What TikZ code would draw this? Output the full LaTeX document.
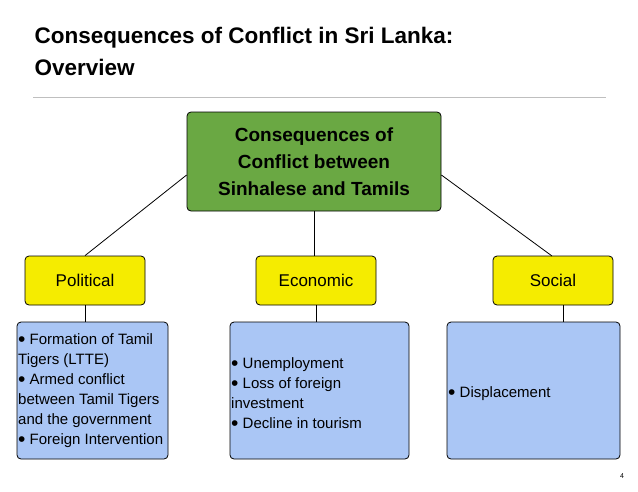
\documentclass[tikz,border=0pt]{standalone}
\usepackage{fontspec}
\setmainfont{Liberation Sans}
\newcommand{\bu}{\raisebox{-1.5pt}{\fontsize{21}{0}\selectfont•}}
\begin{document}
\begin{tikzpicture}[x=1pt,y=-1pt,
  box/.style={draw=black,line width=0.8pt,rounded corners=4pt,inner sep=0pt},
  link/.style={draw=black,line width=0.8pt},
  bl/.style={anchor=west,align=left,inner sep=0pt,font=\fontsize{15}{20}\selectfont}]
\useasboundingbox (0,0) rectangle (638,491);
\fill[white] (0,0) rectangle (638,491);
\node[anchor=north west,align=left,font=\bfseries\fontsize{22.5}{32}\selectfont] (title) at (31,24) {Consequences of Conflict in Sri Lanka:\\Overview};
\draw[gray!50,line width=0.6pt] (33,97) -- (606,97);
\node[box,fill={rgb,255:red,106;green,168;blue,67},minimum width=254pt,minimum height=99pt,align=center,font=\bfseries\fontsize{19}{27}\selectfont] (top) at (314,161.5) {Consequences of\\Conflict between\\Sinhalese and Tamils};
\tikzset{yb/.style={box,fill={rgb,255:red,245;green,236;blue,0},minimum width=120pt,minimum height=49pt,font=\fontsize{17}{20}\selectfont}}
\node[yb] (pol) at (85,280.5) {Political};
\node[yb] (eco) at (316,280.5) {Economic};
\node[yb] (soc) at (553,280.5) {Social};
\tikzset{bb/.style={box,fill={rgb,255:red,170;green,198;blue,245},minimum height=137pt}}
\node[bb,minimum width=151pt] (b1) at (92.5,390.5) {};
\node[bb,minimum width=179pt] (b2) at (319.5,390.5) {};
\node[bb,minimum width=173pt] (b3) at (533.5,390.5) {};
\node[bl] (t1) at (18,391) {\bu\ Formation of Tamil\\Tigers (LTTE)\\\bu\ Armed conflict\\between Tamil Tigers\\and the government\\\bu\ Foreign Intervention};
\node[bl] (t2) at (231,394) {\bu\ Unemployment\\\bu\ Loss of foreign\\investment\\\bu\ Decline in tourism};
\node[bl] (t3) at (448,394) {\bu\ Displacement};
\draw[link] (top.west |- 0,175) -- (pol.north);
\draw[link] (top.south) -- (top.south |- eco.north);
\draw[link] (top.east |- 0,175) -- (552,256);
\draw[link] (pol.south) -- (pol.south |- b1.north);
\draw[link] (eco.south) -- (eco.south |- b2.north);
\draw[link] (563,305) -- (563,322);
\node[font=\fontsize{7}{8}\selectfont] (pg) at (622,476) {4};
\end{tikzpicture}
\end{document}
